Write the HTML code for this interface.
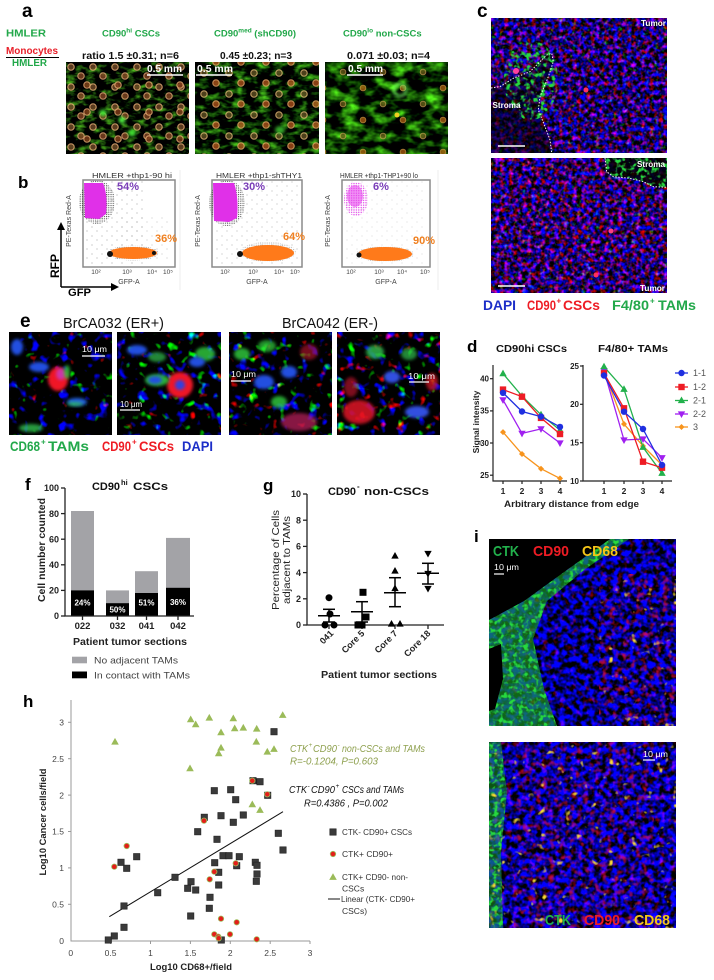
<!DOCTYPE html>
<html><head><meta charset="utf-8">
<style>
html,body{margin:0;padding:0;background:#fff;width:714px;height:980px;overflow:hidden}
svg{display:block}
text{font-family:"Liberation Sans",Arial,sans-serif}
</style></head><body>
<svg width="714" height="980" viewBox="0 0 714 980" xmlns="http://www.w3.org/2000/svg">
<defs>
<filter id="fa1" x="0" y="0" width="1" height="1" color-interpolation-filters="sRGB">
<feTurbulence type="fractalNoise" baseFrequency="0.1 0.18" numOctaves="3" seed="3"/>
<feColorMatrix type="matrix" values="0 0.8 0 0 -0.4  0 1.8 0 0 -0.85  0 0.3 0 0 -0.15  0 0 0 0 1"/>
</filter>
<filter id="fa2" x="0" y="0" width="1" height="1" color-interpolation-filters="sRGB">
<feTurbulence type="fractalNoise" baseFrequency="0.08 0.15" numOctaves="3" seed="7"/>
<feColorMatrix type="matrix" values="0 0.8 0 0 -0.4  0 1.9 0 0 -0.85  0 0.3 0 0 -0.15  0 0 0 0 1"/>
</filter>
<filter id="fa3" x="0" y="0" width="1" height="1" color-interpolation-filters="sRGB">
<feTurbulence type="fractalNoise" baseFrequency="0.06 0.1" numOctaves="3" seed="11"/>
<feColorMatrix type="matrix" values="0 0.9 0 0 -0.42  0 2.3 0 0 -0.95  0 0.3 0 0 -0.15  0 0 0 0 1"/>
</filter>
<filter id="fc1" x="0" y="0" width="1" height="1" color-interpolation-filters="sRGB">
<feTurbulence type="fractalNoise" baseFrequency="0.22" numOctaves="2" seed="4"/>
<feColorMatrix type="matrix" values="2.2 0 0 0 -1.0  0 1.8 0 0 -1.1  0 0 2.8 0 -1.0  0 0 0 0 1"/>
</filter>
<filter id="fc2" x="0" y="0" width="1" height="1" color-interpolation-filters="sRGB">
<feTurbulence type="fractalNoise" baseFrequency="0.22" numOctaves="2" seed="6"/>
<feColorMatrix type="matrix" values="2.3 0 0 0 -1.0  0 1.8 0 0 -1.1  0 0 2.8 0 -1.0  0 0 0 0 1"/>
</filter>
<filter id="fg" x="0" y="0" width="1" height="1" color-interpolation-filters="sRGB">
<feTurbulence type="fractalNoise" baseFrequency="0.2" numOctaves="2" seed="9"/>
<feColorMatrix type="matrix" values="0 0 0 0 0.2  0 0 0 0 0.85  0 0 0 0 0.3  0 5 0 0 -2.6"/>
</filter>
<filter id="fgd" x="0" y="0" width="1" height="1" color-interpolation-filters="sRGB">
<feTurbulence type="fractalNoise" baseFrequency="0.2" numOctaves="2" seed="13"/>
<feColorMatrix type="matrix" values="0 0 0 0 0.15  0 0 0 0 0.85  0 0 0 0 0.25  0 5 0 0 -2.5"/>
</filter>
<filter id="fe1" x="0" y="0" width="1" height="1" color-interpolation-filters="sRGB">
<feTurbulence type="fractalNoise" baseFrequency="0.1" numOctaves="2" seed="21"/>
<feColorMatrix type="matrix" values="5.5 0 0 0 -3.9  0 5.5 0 0 -3.65  0 0 5.5 0 -3.25  0 0 0 0 1"/>
</filter>
<filter id="fe2" x="0" y="0" width="1" height="1" color-interpolation-filters="sRGB">
<feTurbulence type="fractalNoise" baseFrequency="0.1" numOctaves="2" seed="23"/>
<feColorMatrix type="matrix" values="5.5 0 0 0 -3.9  0 5.5 0 0 -3.5  0 0 5.5 0 -3.2  0 0 0 0 1"/>
</filter>
<filter id="fe3" x="0" y="0" width="1" height="1" color-interpolation-filters="sRGB">
<feTurbulence type="fractalNoise" baseFrequency="0.1" numOctaves="2" seed="25"/>
<feColorMatrix type="matrix" values="5.5 0 0 0 -3.65  0 5.5 0 0 -3.55  0 0 5.5 0 -3.2  0 0 0 0 1"/>
</filter>
<filter id="fe4" x="0" y="0" width="1" height="1" color-interpolation-filters="sRGB">
<feTurbulence type="fractalNoise" baseFrequency="0.1" numOctaves="2" seed="27"/>
<feColorMatrix type="matrix" values="5.5 0 0 0 -3.5  0 5.5 0 0 -3.55  0 0 5.5 0 -3.2  0 0 0 0 1"/>
</filter>
<filter id="fi1" x="0" y="0" width="1" height="1" color-interpolation-filters="sRGB">
<feTurbulence type="fractalNoise" baseFrequency="0.17" numOctaves="2" seed="31"/>
<feColorMatrix type="matrix" values="1.6 0 0 0 -0.9  0 0 0 0 0  0 0 3.4 0 -1.2  0 0 0 0 1"/>
</filter>
<filter id="fi2" x="0" y="0" width="1" height="1" color-interpolation-filters="sRGB">
<feTurbulence type="fractalNoise" baseFrequency="0.17" numOctaves="2" seed="33"/>
<feColorMatrix type="matrix" values="1.7 0 0 0 -0.9  0 0 0 0 0  0 0 3.4 0 -1.15  0 0 0 0 1"/>
</filter>
<filter id="fy" x="0" y="0" width="1" height="1" color-interpolation-filters="sRGB">
<feTurbulence type="fractalNoise" baseFrequency="0.12" numOctaves="2" seed="41"/>
<feColorMatrix type="matrix" values="0 0 0 0 0.97  0 0 0 0 0.85  0 0 0 0 0.2  0 6.5 0 0 -4.45"/>
</filter>
<filter id="fr" x="0" y="0" width="1" height="1" color-interpolation-filters="sRGB">
<feTurbulence type="fractalNoise" baseFrequency="0.15" numOctaves="2" seed="45"/>
<feColorMatrix type="matrix" values="0 0 0 0 0.85  0 0 0 0 0.05  0 0 0 0 0.2  3.5 0 0 0 -1.9"/>
</filter>
<filter id="bl" x="-50%" y="-50%" width="200%" height="200%"><feGaussianBlur stdDeviation="1.5"/></filter>
<filter id="bl3" x="-50%" y="-50%" width="200%" height="200%"><feGaussianBlur stdDeviation="3"/></filter>

<pattern id="ringA" width="22" height="20" patternUnits="userSpaceOnUse">
<circle cx="5" cy="5" r="3.2" fill="#6a4424" stroke="#e3aa72" stroke-width="1.2"/>
<circle cx="15" cy="14" r="3.2" fill="#7a4020" stroke="#dca070" stroke-width="1.2"/>
</pattern>
<pattern id="ringB" width="31" height="27" patternUnits="userSpaceOnUse" patternTransform="translate(7,3)">
<circle cx="14" cy="20" r="3.2" fill="#7a3818" stroke="#e0a46c" stroke-width="1.2"/>
</pattern>
<pattern id="ringC" width="25" height="21" patternUnits="userSpaceOnUse" patternTransform="translate(3,6)">
<circle cx="6" cy="5" r="3.2" fill="#5a4a20" stroke="#d8b070" stroke-width="1.2"/>
<circle cx="18" cy="15" r="3.2" fill="#a04a18" stroke="#e0a060" stroke-width="1.2"/>
</pattern>
<pattern id="ringD" width="40" height="32" patternUnits="userSpaceOnUse" patternTransform="translate(10,4)">
<circle cx="8" cy="6" r="2.8" fill="#6a5a18" stroke="#c89a50" stroke-width="1"/>
<circle cx="28" cy="22" r="2.8" fill="#b06010" stroke="#d89a40" stroke-width="1"/>
</pattern>
<pattern id="sc" width="10" height="9" patternUnits="userSpaceOnUse">
<circle cx="2" cy="2" r="0.5" fill="#222"/><circle cx="7" cy="6" r="0.5" fill="#222"/>
</pattern>
<pattern id="dense" width="2.2" height="2.2" patternUnits="userSpaceOnUse">
<circle cx="1" cy="1" r="0.55" fill="#111"/>
</pattern>
<pattern id="mag" width="2.4" height="2.4" patternUnits="userSpaceOnUse">
<circle cx="1.2" cy="1.2" r="0.7" fill="#e040e8"/>
</pattern>

<circle id="mC" r="3.2"/>
<rect id="mS" x="-3.2" y="-3.2" width="6.4" height="6.4"/>
<path id="mT" d="M0,-4 L3.7,2.6 L-3.7,2.6Z"/>
<path id="mV" d="M0,4 L3.7,-2.6 L-3.7,-2.6Z"/>
<path id="mD" d="M0,-3 L3,0 L0,3 L-3,0Z"/>
<rect id="hS" x="-3.2" y="-3.2" width="6.4" height="6.4" fill="#3a3a3a" stroke="#1e1e1e" stroke-width="0.6"/>
<circle id="hR" r="2.7" fill="#e41e1a" stroke="#9bbb59" stroke-width="0.8"/>
<path id="hT" d="M0,-3.8 L3.8,2.9 L-3.8,2.9Z" fill="#9bbb59"/>
</defs>

<!-- ================= Panel a ================= -->
<text x="22" y="17" font-size="19" font-weight="bold">a</text>
<text x="6" y="36.5" font-size="10.5" font-weight="bold" fill="#22a84a" textLength="40" lengthAdjust="spacingAndGlyphs">HMLER</text>
<text x="6" y="54" font-size="10.5" font-weight="bold" fill="#e8202a" textLength="52" lengthAdjust="spacingAndGlyphs">Monocytes</text>
<line x1="6" y1="57.5" x2="59" y2="57.5" stroke="#000" stroke-width="1"/>
<text x="12" y="66" font-size="10.5" font-weight="bold" fill="#22a84a" textLength="35" lengthAdjust="spacingAndGlyphs">HMLER</text>

<text x="102" y="36.5" font-size="9.5" font-weight="bold" fill="#22a84a">CD90<tspan font-size="6.5" dy="-4">hi</tspan><tspan dy="4"> CSCs</tspan></text>
<text x="214" y="36.5" font-size="9.5" font-weight="bold" fill="#22a84a">CD90<tspan font-size="6.5" dy="-4">med</tspan><tspan dy="4"> (shCD90)</tspan></text>
<text x="343" y="36.5" font-size="9.5" font-weight="bold" fill="#22a84a">CD90<tspan font-size="6.5" dy="-4">lo</tspan><tspan dy="4"> non-CSCs</tspan></text>

<text x="82" y="59" font-size="10" font-weight="bold" fill="#111" textLength="97" lengthAdjust="spacingAndGlyphs">ratio  1.5 ±0.31; n=6</text>
<text x="220" y="59" font-size="10" font-weight="bold" fill="#111" textLength="72" lengthAdjust="spacingAndGlyphs">0.45 ±0.23; n=3</text>
<text x="347" y="59" font-size="10" font-weight="bold" fill="#111" textLength="83" lengthAdjust="spacingAndGlyphs">0.071 ±0.03; n=4</text>

<svg x="66" y="62" width="123" height="92">
<rect width="123" height="92" filter="url(#fa1)"/>
<rect width="123" height="92" fill="url(#ringA)" opacity="0.85"/>
<rect width="123" height="92" fill="url(#ringB)" opacity="0.85"/>
<ellipse cx="37" cy="51" rx="4" ry="3.5" fill="#40e030" filter="url(#bl)"/>
<ellipse cx="56" cy="58" rx="3.5" ry="3.5" fill="#50f040" filter="url(#bl)"/>
<ellipse cx="66" cy="71" rx="4" ry="3.5" fill="#40e030" filter="url(#bl)"/>
<text x="81" y="10" font-size="10" font-weight="bold" fill="#fff" textLength="35" lengthAdjust="spacingAndGlyphs">0.5 mm</text>
<line x1="81" y1="13" x2="117" y2="13" stroke="#fff" stroke-width="1.5"/>
</svg>
<svg x="195" y="62" width="124" height="92">
<rect width="124" height="92" filter="url(#fa2)"/>
<rect width="124" height="92" fill="url(#ringC)" opacity="0.85"/>
<ellipse cx="85" cy="68" rx="5" ry="4" fill="#40d030" opacity="0.8" filter="url(#bl)"/>
<text x="2" y="10" font-size="10" font-weight="bold" fill="#fff" textLength="36" lengthAdjust="spacingAndGlyphs">0.5 mm</text>
<line x1="1" y1="13" x2="37" y2="13" stroke="#fff" stroke-width="1.5"/>
</svg>
<svg x="325" y="62" width="123" height="92">
<rect width="123" height="92" filter="url(#fa3)"/>
<rect width="123" height="92" fill="url(#ringD)" opacity="0.75"/>
<ellipse cx="75" cy="28" rx="6" ry="6" fill="none" stroke="#70f060" stroke-width="2" filter="url(#bl)"/>
<circle cx="72" cy="53" r="2.5" fill="#f0d020"/>
<text x="23" y="10" font-size="10" font-weight="bold" fill="#fff" textLength="35" lengthAdjust="spacingAndGlyphs">0.5 mm</text>
<line x1="22" y1="13" x2="58" y2="13" stroke="#fff" stroke-width="1.5"/>
</svg>

<!-- ================= Panel b ================= -->
<text x="18" y="188" font-size="17" font-weight="bold">b</text>
<line x1="180" y1="170" x2="180" y2="290" stroke="#eee" stroke-width="1"/>
<line x1="438" y1="170" x2="438" y2="290" stroke="#eee" stroke-width="1"/>

<text x="92" y="178" font-size="7.5" fill="#333" textLength="80" lengthAdjust="spacingAndGlyphs">HMLER +thp1-90 hi</text>
<rect x="83" y="180" width="92" height="87" fill="#fff" stroke="#8a8a8a" stroke-width="1.5"/>
<rect x="84" y="181" width="60" height="85" fill="url(#sc)" opacity="0.55"/>
<rect x="120" y="215" width="50" height="45" fill="url(#sc)" opacity="0.35"/>
<ellipse cx="97" cy="202" rx="18" ry="22" fill="url(#dense)" opacity="0.85"/>
<path d="M84,183 L103,183 Q108,195 106,214 L99,219 L85,218 Z" fill="#e030e8"/>
<ellipse cx="133" cy="253" rx="26" ry="7.5" fill="url(#dense)" opacity="0.5"/>
<ellipse cx="133" cy="253" rx="24" ry="6" fill="#ff7a1a"/>
<circle cx="110" cy="254" r="3" fill="#111"/>
<circle cx="154" cy="253" r="2" fill="#111"/>
<text x="117" y="190" font-size="11" font-weight="bold" fill="#7a3db8">54%</text>
<text x="155" y="242" font-size="11" font-weight="bold" fill="#f08020">36%</text>

<text x="216" y="178" font-size="7.5" fill="#333" textLength="86" lengthAdjust="spacingAndGlyphs">HMLER +thp1-shTHY1</text>
<rect x="212" y="180" width="90" height="87" fill="#fff" stroke="#8a8a8a" stroke-width="1.5"/>
<rect x="213" y="181" width="88" height="85" fill="url(#sc)" opacity="0.45"/>
<ellipse cx="227" cy="203" rx="18" ry="23" fill="url(#dense)" opacity="0.85"/>
<path d="M213,183 L234,183 Q239,198 237,218 L229,222 L214,221 Z" fill="#e030e8"/>
<ellipse cx="268" cy="252" rx="28" ry="10" fill="url(#dense)" opacity="0.35"/>
<ellipse cx="268" cy="253" rx="26" ry="8" fill="#ff7a1a"/>
<circle cx="240" cy="254" r="3" fill="#111"/>
<text x="243" y="190" font-size="11" font-weight="bold" fill="#7a3db8">30%</text>
<text x="283" y="240" font-size="11" font-weight="bold" fill="#f08020">64%</text>

<text x="340" y="178" font-size="7.5" fill="#333" textLength="78" lengthAdjust="spacingAndGlyphs">HMLER +thp1-THP1+90 lo</text>
<rect x="342" y="180" width="88" height="87" fill="#fff" stroke="#8a8a8a" stroke-width="1.5"/>
<rect x="343" y="181" width="80" height="85" fill="url(#sc)" opacity="0.25"/>
<ellipse cx="356" cy="199" rx="12" ry="17" fill="url(#mag)"/>
<ellipse cx="355" cy="196" rx="8" ry="11" fill="#e848ee" opacity="0.6"/>
<ellipse cx="385" cy="254" rx="29" ry="8" fill="url(#dense)" opacity="0.3"/>
<ellipse cx="385" cy="254" rx="27" ry="7" fill="#ff7a1a"/>
<circle cx="359" cy="255" r="2.5" fill="#111"/>
<text x="373" y="190" font-size="11" font-weight="bold" fill="#7a3db8">6%</text>
<text x="413" y="244" font-size="11" font-weight="bold" fill="#f08020">90%</text>

<g font-size="6.5" fill="#444">
<text x="96" y="274" text-anchor="middle">10²</text><text x="127" y="274" text-anchor="middle">10³</text><text x="152" y="274" text-anchor="middle">10⁴</text><text x="168" y="274" text-anchor="middle">10⁵</text>
<text x="225" y="274" text-anchor="middle">10²</text><text x="253" y="274" text-anchor="middle">10³</text><text x="279" y="274" text-anchor="middle">10⁴</text><text x="295" y="274" text-anchor="middle">10⁵</text>
<text x="351" y="274" text-anchor="middle">10²</text><text x="379" y="274" text-anchor="middle">10³</text><text x="402" y="274" text-anchor="middle">10⁴</text><text x="425" y="274" text-anchor="middle">10⁵</text>
</g>
<g font-size="7" fill="#444">
<text x="129" y="284" text-anchor="middle">GFP-A</text>
<text x="257" y="284" text-anchor="middle">GFP-A</text>
<text x="386" y="284" text-anchor="middle">GFP-A</text>
<text transform="translate(71,221) rotate(-90)" text-anchor="middle">PE-Texas Red-A</text>
<text transform="translate(200,221) rotate(-90)" text-anchor="middle">PE-Texas Red-A</text>
<text transform="translate(330,221) rotate(-90)" text-anchor="middle">PE-Texas Red-A</text>
</g>

<line x1="61" y1="287" x2="61" y2="228" stroke="#000" stroke-width="1.5"/>
<path d="M61,222 L57,230 L65,230 Z" fill="#000"/>
<line x1="61" y1="287" x2="113" y2="287" stroke="#000" stroke-width="1.5"/>
<path d="M119,287 L111,283 L111,291 Z" fill="#000"/>
<text transform="translate(59,266) rotate(-90)" font-size="12" font-weight="bold" text-anchor="middle">RFP</text>
<text x="68" y="296" font-size="11" font-weight="bold" textLength="23" lengthAdjust="spacingAndGlyphs">GFP</text>

<!-- ================= Panel c ================= -->
<text x="477" y="17" font-size="19" font-weight="bold">c</text>
<svg x="491" y="18" width="176" height="135">
<rect width="176" height="135" filter="url(#fc1)"/>
<path d="M0,70 L9,68.7 L22.3,60.3 L39,53.7 L55.7,37 L60.7,35.3 L62.3,43.7 L57.3,58.7 L49,78.7 L47.3,92 L54,108.7 L59,122 L60.7,135 L0,135 Z" fill="#000" opacity="0.55"/>
<clipPath id="cgc1"><ellipse cx="40" cy="62" rx="27" ry="40"/></clipPath>
<rect width="176" height="135" filter="url(#fgd)" clip-path="url(#cgc1)"/>
<circle cx="25" cy="53" r="3" fill="#ff40a0"/>
<circle cx="95" cy="72" r="2.5" fill="#ff3060"/>
<polyline points="0,70 9,68.7 22.3,60.3 39,53.7 55.7,37 60.7,35.3 62.3,43.7 57.3,58.7 49,78.7 47.3,92 54,108.7 59,122 60.7,135" fill="none" stroke="#eee" stroke-width="1" stroke-dasharray="1.5,1.5"/>
<text x="1.5" y="90" font-size="8.5" font-weight="bold" fill="#fff" textLength="28" lengthAdjust="spacingAndGlyphs">Stroma</text>
<text x="150" y="8" font-size="8.5" font-weight="bold" fill="#fff" textLength="25" lengthAdjust="spacingAndGlyphs">Tumor</text>
<line x1="7" y1="128" x2="34" y2="128" stroke="#fff" stroke-width="1.5"/>
</svg>
<svg x="491" y="158" width="176" height="135">
<rect width="176" height="135" filter="url(#fc2)"/>
<clipPath id="cgc2"><path d="M114,0 L115.7,13.7 L122.3,18.7 L139,20.3 L152.3,23.7 L162.3,28.7 L176,29.3 L176,0 Z"/></clipPath>
<rect width="176" height="135" fill="#000" opacity="0.85" clip-path="url(#cgc2)"/>
<rect width="176" height="135" filter="url(#fgd)" clip-path="url(#cgc2)"/>
<circle cx="105" cy="117" r="2.5" fill="#ff3060"/>
<circle cx="120" cy="73" r="2.5" fill="#ff4080"/>
<polyline points="114,0 115.7,13.7 122.3,18.7 139,20.3 152.3,23.7 162.3,28.7 176,29.3" fill="none" stroke="#eee" stroke-width="1" stroke-dasharray="1.5,1.5"/>
<text x="146" y="9" font-size="8.5" font-weight="bold" fill="#fff" textLength="28" lengthAdjust="spacingAndGlyphs">Stroma</text>
<text x="149" y="133" font-size="8.5" font-weight="bold" fill="#fff" textLength="25" lengthAdjust="spacingAndGlyphs">Tumor</text>
<line x1="7" y1="128" x2="34" y2="128" stroke="#fff" stroke-width="1.5"/>
</svg>
<g font-size="14" font-weight="bold">
<text x="483" y="310" fill="#1c2ec8" textLength="33" lengthAdjust="spacingAndGlyphs">DAPI</text>
<text x="527" y="310" fill="#ee1c24" textLength="29" lengthAdjust="spacingAndGlyphs">CD90</text>
<text x="556.5" y="303.5" fill="#ee1c24" font-size="8">+</text>
<text x="563" y="310" fill="#ee1c24" textLength="37" lengthAdjust="spacingAndGlyphs">CSCs</text>
<text x="612" y="310" fill="#22a84a" textLength="37" lengthAdjust="spacingAndGlyphs">F4/80</text>
<text x="650" y="303.5" fill="#22a84a" font-size="8">+</text>
<text x="658" y="310" fill="#22a84a" textLength="38" lengthAdjust="spacingAndGlyphs">TAMs</text>
</g>

<!-- ================= Panel e ================= -->
<text x="20" y="327" font-size="19" font-weight="bold">e</text>
<text x="63" y="328" font-size="15" fill="#111" textLength="101" lengthAdjust="spacingAndGlyphs">BrCA032 (ER+)</text>
<text x="282" y="328" font-size="15" fill="#111" textLength="96" lengthAdjust="spacingAndGlyphs">BrCA042 (ER-)</text>
<svg x="9" y="332" width="103" height="103">
<rect width="103" height="103" filter="url(#fe1)"/>
<ellipse cx="49" cy="47" rx="10" ry="12" fill="#f01828" filter="url(#bl)"/>
<ellipse cx="52" cy="42" rx="5" ry="6" fill="#c040e0" opacity="0.7" filter="url(#bl)"/>
<ellipse cx="58" cy="40" rx="3" ry="7" fill="#30d040" opacity="0.8" filter="url(#bl)"/>
<ellipse cx="68" cy="70" rx="10" ry="4" fill="#2060e0" filter="url(#bl)"/>
<ellipse cx="66" cy="72" rx="8" ry="2" fill="#30d040" opacity="0.7" filter="url(#bl)"/>
<ellipse cx="22" cy="96" rx="12" ry="4" fill="#30c050" opacity="0.8" filter="url(#bl)"/>
<ellipse cx="30" cy="35" rx="10" ry="5" fill="#2050e0" filter="url(#bl)"/>
<ellipse cx="8" cy="15" rx="6" ry="8" fill="#2050e0" filter="url(#bl)"/>
<text x="73" y="20" font-size="8.5" fill="#fff" textLength="25" lengthAdjust="spacingAndGlyphs">10 μm</text>
<line x1="73" y1="24" x2="96" y2="24" stroke="#fff" stroke-width="1.3"/>
</svg>
<svg x="117" y="332" width="104" height="103">
<rect width="104" height="103" filter="url(#fe2)"/>
<circle cx="63" cy="53" r="13" fill="#f01828" filter="url(#bl)"/>
<circle cx="63" cy="53" r="5" fill="#3040e0" filter="url(#bl)"/>
<ellipse cx="40" cy="48" rx="12" ry="6" fill="#30d040" opacity="0.85" filter="url(#bl)"/>
<ellipse cx="38" cy="48" rx="7" ry="4" fill="#2050e0" filter="url(#bl)"/>
<ellipse cx="88" cy="22" rx="10" ry="7" fill="#30d040" opacity="0.8" filter="url(#bl)"/>
<ellipse cx="40" cy="25" rx="9" ry="5" fill="#30c050" opacity="0.7" filter="url(#bl)"/>
<ellipse cx="20" cy="18" rx="10" ry="5" fill="#2050e0" filter="url(#bl)"/>
<ellipse cx="80" cy="30" rx="8" ry="5" fill="#2050e0" filter="url(#bl)"/>
<text x="3" y="75" font-size="8.5" fill="#fff" textLength="22" lengthAdjust="spacingAndGlyphs">10 μm</text>
<line x1="3" y1="78" x2="23" y2="78" stroke="#fff" stroke-width="1.3"/>
</svg>
<svg x="229" y="332" width="103" height="103">
<rect width="103" height="103" filter="url(#fe3)"/>
<ellipse cx="13" cy="22" rx="8" ry="6" fill="#30d040" opacity="0.8" filter="url(#bl)"/>
<ellipse cx="38" cy="14" rx="9" ry="6" fill="#30d040" opacity="0.7" filter="url(#bl)"/>
<ellipse cx="50" cy="70" rx="8" ry="6" fill="#30d040" opacity="0.8" filter="url(#bl)"/>
<ellipse cx="80" cy="20" rx="9" ry="8" fill="#c01830" opacity="0.6" filter="url(#bl)"/>
<ellipse cx="70" cy="90" rx="18" ry="9" fill="#c02060" opacity="0.7" filter="url(#bl)"/>
<ellipse cx="35" cy="50" rx="10" ry="7" fill="#2050e0" filter="url(#bl)"/>
<ellipse cx="60" cy="40" rx="8" ry="6" fill="#2050e0" filter="url(#bl)"/>
<text x="2" y="45" font-size="8.5" fill="#fff" textLength="25" lengthAdjust="spacingAndGlyphs">10 μm</text>
<line x1="2" y1="49" x2="22" y2="49" stroke="#fff" stroke-width="1.3"/>
</svg>
<svg x="337" y="332" width="103" height="103">
<rect width="103" height="103" filter="url(#fe4)"/>
<ellipse cx="22" cy="80" rx="16" ry="12" fill="#e01828" opacity="0.85" filter="url(#bl)"/>
<ellipse cx="14" cy="55" rx="7" ry="10" fill="#d01830" opacity="0.6" filter="url(#bl)"/>
<ellipse cx="95" cy="50" rx="6" ry="9" fill="#e01828" opacity="0.7" filter="url(#bl)"/>
<ellipse cx="38" cy="20" rx="9" ry="7" fill="#30c050" opacity="0.8" filter="url(#bl)"/>
<ellipse cx="72" cy="22" rx="8" ry="6" fill="#30c050" opacity="0.7" filter="url(#bl)"/>
<ellipse cx="80" cy="80" rx="12" ry="6" fill="#3050e0" filter="url(#bl)"/>
<ellipse cx="55" cy="45" rx="8" ry="6" fill="#3050e0" filter="url(#bl)"/>
<text x="71" y="47" font-size="8.5" fill="#fff" textLength="27" lengthAdjust="spacingAndGlyphs">10 μm</text>
<line x1="72" y1="50" x2="92" y2="50" stroke="#fff" stroke-width="1.3"/>
</svg>
<g font-size="14" font-weight="bold">
<text x="10" y="451" fill="#22a84a" textLength="30" lengthAdjust="spacingAndGlyphs">CD68</text>
<text x="41" y="444.5" fill="#22a84a" font-size="8">+</text>
<text x="48" y="451" fill="#22a84a" textLength="41" lengthAdjust="spacingAndGlyphs">TAMs</text>
<text x="102" y="451" fill="#ee1c24" textLength="29" lengthAdjust="spacingAndGlyphs">CD90</text>
<text x="132" y="444.5" fill="#ee1c24" font-size="8">+</text>
<text x="139" y="451" fill="#ee1c24" textLength="35" lengthAdjust="spacingAndGlyphs">CSCs</text>
<text x="182" y="451" fill="#1c2ec8" textLength="31" lengthAdjust="spacingAndGlyphs">DAPI</text>
</g>

<!-- ================= Panel d ================= -->
<text x="467" y="352" font-size="17" font-weight="bold">d</text>
<text x="496" y="352" font-size="10" font-weight="bold" fill="#111" textLength="71" lengthAdjust="spacingAndGlyphs">CD90hi CSCs</text>
<text x="598" y="352" font-size="10" font-weight="bold" fill="#111" textLength="70" lengthAdjust="spacingAndGlyphs">F4/80+ TAMs</text>
<text transform="translate(479,422) rotate(-90)" font-size="8.5" font-weight="bold" fill="#222" text-anchor="middle">Signal intensity</text>
<g stroke="#222" stroke-width="1.2" fill="none">
<polyline points="493,365 493,481 567,481"/>
<line x1="490" y1="378.7" x2="493" y2="378.7"/><line x1="490" y1="410.9" x2="493" y2="410.9"/><line x1="490" y1="443" x2="493" y2="443"/><line x1="490" y1="475.2" x2="493" y2="475.2"/>
<line x1="503" y1="481" x2="503" y2="484"/><line x1="522" y1="481" x2="522" y2="484"/><line x1="541" y1="481" x2="541" y2="484"/><line x1="560" y1="481" x2="560" y2="484"/>
<polyline points="583,365 583,481 672,481"/>
<line x1="580" y1="366" x2="583" y2="366"/><line x1="580" y1="404.3" x2="583" y2="404.3"/><line x1="580" y1="442.7" x2="583" y2="442.7"/><line x1="580" y1="481" x2="583" y2="481"/>
<line x1="604" y1="481" x2="604" y2="484"/><line x1="624" y1="481" x2="624" y2="484"/><line x1="643" y1="481" x2="643" y2="484"/><line x1="662" y1="481" x2="662" y2="484"/>
</g>
<g font-size="8" font-weight="bold" fill="#222" text-anchor="end">
<text x="489" y="381.5">40</text><text x="489" y="413.7">35</text><text x="489" y="445.8">30</text><text x="489" y="478">25</text>
<text x="579" y="369">25</text><text x="579" y="407">20</text><text x="579" y="445.5">15</text><text x="579" y="484">10</text>
</g>
<g font-size="8.5" font-weight="bold" fill="#222" text-anchor="middle">
<text x="503" y="494">1</text><text x="522" y="494">2</text><text x="541" y="494">3</text><text x="560" y="494">4</text>
<text x="604" y="494">1</text><text x="624" y="494">2</text><text x="643" y="494">3</text><text x="662" y="494">4</text>
</g>
<text x="504" y="507" font-size="9" font-weight="bold" fill="#222" textLength="135" lengthAdjust="spacingAndGlyphs">Arbitrary distance from edge</text>
<g fill="none" stroke-width="1.3">
<polyline stroke="#f7941d" points="503,432.1 522,454 541,468.7 560,478.4"/>
<polyline stroke="#a020f0" points="503,399.9 522,433.4 541,428.9 560,443"/>
<polyline stroke="#22b14c" points="503,373.6 522,396.1 541,414.7 560,430.1"/>
<polyline stroke="#ee1c24" points="503,389.6 522,396.7 541,417.9 560,434"/>
<polyline stroke="#1f2fe0" points="503,392.8 522,411.5 541,416.6 560,426.9"/>
<polyline stroke="#f7941d" points="604,371.7 624,424 643,446 662,465"/>
<polyline stroke="#a020f0" points="604,370.7 624,440 643,439 662,457.7"/>
<polyline stroke="#22b14c" points="604,366.7 624,389.3 643,447.3 662,473.3"/>
<polyline stroke="#ee1c24" points="604,373.3 624,408.3 643,461.7 662,467.7"/>
<polyline stroke="#1f2fe0" points="604,375.5 624,411.7 643,429 662,465"/>
</g>
<g fill="#f7941d"><use href="#mD" x="503" y="432.1"/><use href="#mD" x="522" y="454"/><use href="#mD" x="541" y="468.7"/><use href="#mD" x="560" y="478.4"/><use href="#mD" x="604" y="371.7"/><use href="#mD" x="624" y="424"/><use href="#mD" x="643" y="446"/><use href="#mD" x="662" y="465"/></g>
<g fill="#a020f0"><use href="#mV" x="503" y="399.9"/><use href="#mV" x="522" y="433.4"/><use href="#mV" x="541" y="428.9"/><use href="#mV" x="560" y="443"/><use href="#mV" x="604" y="370.7"/><use href="#mV" x="624" y="440"/><use href="#mV" x="643" y="439"/><use href="#mV" x="662" y="457.7"/></g>
<g fill="#22b14c"><use href="#mT" x="503" y="373.6"/><use href="#mT" x="522" y="396.1"/><use href="#mT" x="541" y="414.7"/><use href="#mT" x="560" y="430.1"/><use href="#mT" x="604" y="366.7"/><use href="#mT" x="624" y="389.3"/><use href="#mT" x="643" y="447.3"/><use href="#mT" x="662" y="473.3"/></g>
<g fill="#ee1c24"><use href="#mS" x="503" y="389.6"/><use href="#mS" x="522" y="396.7"/><use href="#mS" x="541" y="417.9"/><use href="#mS" x="560" y="434"/><use href="#mS" x="604" y="373.3"/><use href="#mS" x="624" y="408.3"/><use href="#mS" x="643" y="461.7"/><use href="#mS" x="662" y="467.7"/></g>
<g fill="#1f2fe0"><use href="#mC" x="503" y="392.8"/><use href="#mC" x="522" y="411.5"/><use href="#mC" x="541" y="416.6"/><use href="#mC" x="560" y="426.9"/><use href="#mC" x="604" y="375.5"/><use href="#mC" x="624" y="411.7"/><use href="#mC" x="643" y="429"/><use href="#mC" x="662" y="465"/></g>
<g stroke-width="1.3">
<line x1="675" y1="373" x2="688" y2="373" stroke="#1f2fe0"/><use href="#mC" x="681.5" y="373" fill="#1f2fe0"/>
<line x1="675" y1="387" x2="688" y2="387" stroke="#ee1c24"/><use href="#mS" x="681.5" y="387" fill="#ee1c24"/>
<line x1="675" y1="400.5" x2="688" y2="400.5" stroke="#22b14c"/><use href="#mT" x="681.5" y="400.5" fill="#22b14c"/>
<line x1="675" y1="414" x2="688" y2="414" stroke="#a020f0"/><use href="#mV" x="681.5" y="414" fill="#a020f0"/>
<line x1="675" y1="427" x2="688" y2="427" stroke="#f7941d"/><use href="#mD" x="681.5" y="427" fill="#f7941d"/>
</g>
<g font-size="9" fill="#555">
<text x="693" y="376">1-1</text><text x="693" y="390">1-2</text><text x="693" y="403.5">2-1</text><text x="693" y="417">2-2</text><text x="693" y="430">3</text>
</g>

<!-- ================= Panel f ================= -->
<text x="25" y="490" font-size="17" font-weight="bold">f</text>
<text x="92" y="490" font-size="11" font-weight="bold" fill="#111" textLength="28" lengthAdjust="spacingAndGlyphs">CD90</text>
<text x="121" y="485" font-size="7.5" font-weight="bold" fill="#111">hi</text>
<text x="133" y="490" font-size="11" font-weight="bold" fill="#111" textLength="35" lengthAdjust="spacingAndGlyphs">CSCs</text>
<text transform="translate(45,550) rotate(-90)" font-size="10.5" font-weight="bold" fill="#222" text-anchor="middle" textLength="104" lengthAdjust="spacingAndGlyphs">Cell number counted</text>
<g fill="#a3a3a7">
<rect x="71" y="511" width="23" height="105"/><rect x="106" y="590.4" width="23" height="25.6"/><rect x="135" y="571.2" width="23" height="44.8"/><rect x="166" y="537.9" width="24" height="78.1"/>
</g>
<g fill="#000">
<rect x="71" y="590.4" width="23" height="25.6"/><rect x="106" y="603.2" width="23" height="12.8"/><rect x="135" y="593" width="23" height="23"/><rect x="166" y="587.8" width="24" height="28.2"/>
</g>
<g stroke="#222" stroke-width="1.3" fill="none">
<polyline points="65,488 65,616 194,616"/>
<line x1="61" y1="488" x2="65" y2="488"/><line x1="61" y1="513.6" x2="65" y2="513.6"/><line x1="61" y1="539.2" x2="65" y2="539.2"/><line x1="61" y1="564.8" x2="65" y2="564.8"/><line x1="61" y1="590.4" x2="65" y2="590.4"/><line x1="61" y1="616" x2="65" y2="616"/>
<line x1="82.5" y1="616" x2="82.5" y2="620"/><line x1="117.5" y1="616" x2="117.5" y2="620"/><line x1="146.5" y1="616" x2="146.5" y2="620"/><line x1="178" y1="616" x2="178" y2="620"/>
</g>
<g font-size="9" font-weight="bold" fill="#222" text-anchor="end">
<text x="59" y="491">100</text><text x="59" y="516.8">80</text><text x="59" y="542.4">60</text><text x="59" y="568">40</text><text x="59" y="593.6">20</text><text x="59" y="619.2">0</text>
</g>
<g font-size="8" font-weight="bold" fill="#fff" text-anchor="middle">
<text x="82.5" y="605.5">24%</text><text x="117.5" y="612.5">50%</text><text x="146.5" y="605.5">51%</text><text x="178" y="605">36%</text>
</g>
<g font-size="9.5" font-weight="bold" fill="#222" text-anchor="middle">
<text x="82.5" y="629">022</text><text x="117.5" y="629">032</text><text x="146.5" y="629">041</text><text x="178" y="629">042</text>
</g>
<text x="73" y="645" font-size="10" font-weight="bold" fill="#222" textLength="114" lengthAdjust="spacingAndGlyphs">Patient tumor sections</text>
<rect x="72" y="656.7" width="15" height="6.6" fill="#a3a3a7"/>
<text x="94" y="663.5" font-size="9.5" fill="#444" textLength="84" lengthAdjust="spacingAndGlyphs">No adjacent TAMs</text>
<rect x="72" y="671.5" width="15" height="6.8" fill="#000"/>
<text x="94" y="678.5" font-size="9.5" fill="#444" textLength="96" lengthAdjust="spacingAndGlyphs">In contact with TAMs</text>

<!-- ================= Panel g ================= -->
<text x="263" y="491" font-size="17" font-weight="bold">g</text>
<text x="328" y="495" font-size="11" font-weight="bold" fill="#111" textLength="28" lengthAdjust="spacingAndGlyphs">CD90</text>
<text x="357" y="489" font-size="8" font-weight="bold" fill="#111">-</text>
<text x="364" y="495" font-size="11" font-weight="bold" fill="#111" textLength="65" lengthAdjust="spacingAndGlyphs">non-CSCs</text>
<text transform="translate(279,560) rotate(-90)" font-size="10.5" fill="#222" text-anchor="middle" textLength="100" lengthAdjust="spacingAndGlyphs">Percentage of Cells</text>
<text transform="translate(290,560) rotate(-90)" font-size="10.5" fill="#222" text-anchor="middle" textLength="88" lengthAdjust="spacingAndGlyphs">adjacent to TAMs</text>
<g stroke="#222" stroke-width="1.3" fill="none">
<polyline points="307,494 307,625 444,625"/>
<line x1="303" y1="494" x2="307" y2="494"/><line x1="303" y1="520.2" x2="307" y2="520.2"/><line x1="303" y1="546.4" x2="307" y2="546.4"/><line x1="303" y1="572.6" x2="307" y2="572.6"/><line x1="303" y1="598.8" x2="307" y2="598.8"/><line x1="303" y1="625" x2="307" y2="625"/>
<line x1="329" y1="625" x2="329" y2="629"/><line x1="362" y1="625" x2="362" y2="629"/><line x1="395" y1="625" x2="395" y2="629"/><line x1="428" y1="625" x2="428" y2="629"/>
</g>
<g font-size="9" font-weight="bold" fill="#222" text-anchor="end">
<text x="301" y="497">10</text><text x="301" y="523.4">8</text><text x="301" y="549.6">6</text><text x="301" y="575.8">4</text><text x="301" y="602">2</text><text x="301" y="628.2">0</text>
</g>
<g fill="#000">
<circle cx="329" cy="597.7" r="3.5"/><circle cx="330" cy="614" r="3.5"/><circle cx="325" cy="625" r="3.5"/><circle cx="334" cy="625" r="3.5"/>
<rect x="359.5" y="588.8" width="7" height="7"/><rect x="362.5" y="613.5" width="7" height="7"/><rect x="354.5" y="621.5" width="7" height="7"/><rect x="358.5" y="621.5" width="7" height="7"/>
<use href="#mT" x="395" y="556"/><use href="#mT" x="395" y="571"/><use href="#mT" x="395" y="588.5"/><use href="#mT" x="391.5" y="624"/><use href="#mT" x="400" y="624"/>
<use href="#mV" x="428" y="553.5"/><use href="#mV" x="428" y="573.5"/><use href="#mV" x="428" y="588.5"/>
</g>
<g stroke="#000" stroke-width="1.5" fill="none">
<line x1="318" y1="615.7" x2="340" y2="615.7"/><line x1="329" y1="609.3" x2="329" y2="622"/><line x1="323" y1="609.3" x2="335" y2="609.3"/><line x1="323" y1="622" x2="335" y2="622"/>
<line x1="351" y1="611.7" x2="373" y2="611.7"/><line x1="362" y1="601.7" x2="362" y2="622"/><line x1="356" y1="601.7" x2="368" y2="601.7"/><line x1="356" y1="622" x2="368" y2="622"/>
<line x1="384" y1="592.7" x2="406" y2="592.7"/><line x1="395" y1="577.7" x2="395" y2="606.7"/><line x1="389" y1="577.7" x2="401" y2="577.7"/><line x1="389" y1="606.7" x2="401" y2="606.7"/>
<line x1="417" y1="573.3" x2="439" y2="573.3"/><line x1="428" y1="563.3" x2="428" y2="584"/><line x1="422" y1="563.3" x2="434" y2="563.3"/><line x1="422" y1="584" x2="434" y2="584"/>
</g>
<g font-size="9" font-weight="bold" fill="#222" text-anchor="end">
<text transform="translate(334,634) rotate(-45)">041</text>
<text transform="translate(365,634) rotate(-45)">Core 5</text>
<text transform="translate(398,634) rotate(-45)">Core 7</text>
<text transform="translate(431,634) rotate(-45)">Core 18</text>
</g>
<text x="321" y="678" font-size="10.5" font-weight="bold" fill="#222" textLength="116" lengthAdjust="spacingAndGlyphs">Patient tumor sections</text>

<!-- ================= Panel h ================= -->
<text x="23" y="707" font-size="17" font-weight="bold">h</text>
<g stroke="#999" stroke-width="1" fill="none">
<polyline points="71,700 71,941 310,941"/>
<line x1="68" y1="722.3" x2="71" y2="722.3"/><line x1="68" y1="758.7" x2="71" y2="758.7"/><line x1="68" y1="795.1" x2="71" y2="795.1"/><line x1="68" y1="831.5" x2="71" y2="831.5"/><line x1="68" y1="867.9" x2="71" y2="867.9"/><line x1="68" y1="904.3" x2="71" y2="904.3"/>
<line x1="110.6" y1="941" x2="110.6" y2="944"/><line x1="150.5" y1="941" x2="150.5" y2="944"/><line x1="190.4" y1="941" x2="190.4" y2="944"/><line x1="230.3" y1="941" x2="230.3" y2="944"/><line x1="270.2" y1="941" x2="270.2" y2="944"/><line x1="310" y1="941" x2="310" y2="944"/>
</g>
<g font-size="8.5" fill="#444" text-anchor="end">
<text x="64" y="725.5">3</text><text x="64" y="762">2.5</text><text x="64" y="798.3">2</text><text x="64" y="834.7">1.5</text><text x="64" y="871">1</text><text x="64" y="907.5">0.5</text><text x="64" y="944">0</text>
</g>
<g font-size="8.5" fill="#444" text-anchor="middle">
<text x="70.7" y="956">0</text><text x="110.6" y="956">0.5</text><text x="150.5" y="956">1</text><text x="190.4" y="956">1.5</text><text x="230.3" y="956">2</text><text x="270.2" y="956">2.5</text><text x="310" y="956">3</text>
</g>
<text transform="translate(46,822) rotate(-90)" font-size="9.5" font-weight="bold" fill="#222" text-anchor="middle" textLength="107" lengthAdjust="spacingAndGlyphs">Log10 Cancer cells/field</text>
<text x="150" y="970" font-size="9.5" font-weight="bold" fill="#222" textLength="82" lengthAdjust="spacingAndGlyphs">Log10 CD68+/field</text>
<line x1="109.3" y1="916.7" x2="283" y2="811.7" stroke="#111" stroke-width="1"/>
<g>
<use href="#hT" x="115" y="741.7"/><use href="#hT" x="190.7" y="719.3"/><use href="#hT" x="195.7" y="724.3"/><use href="#hT" x="209.3" y="717.7"/><use href="#hT" x="221" y="732.3"/><use href="#hT" x="233.3" y="718.3"/><use href="#hT" x="234.7" y="728.3"/><use href="#hT" x="243.3" y="727.7"/><use href="#hT" x="256.7" y="728.7"/><use href="#hT" x="256.3" y="741.7"/><use href="#hT" x="282.7" y="715"/><use href="#hT" x="218.7" y="753.3"/><use href="#hT" x="221" y="747.7"/><use href="#hT" x="267.3" y="751.7"/><use href="#hT" x="274" y="749"/><use href="#hT" x="190" y="768.3"/><use href="#hT" x="252.3" y="804.3"/><use href="#hT" x="260" y="810"/>
</g>
<g>
<use href="#hS" x="108.3" y="940"/><use href="#hS" x="114.3" y="936"/><use href="#hS" x="124" y="927.3"/><use href="#hS" x="124" y="906"/><use href="#hS" x="121" y="862.3"/><use href="#hS" x="126.7" y="868.3"/><use href="#hS" x="136.7" y="856.7"/><use href="#hS" x="157.7" y="892.7"/><use href="#hS" x="175" y="877.3"/><use href="#hS" x="187.7" y="888.3"/><use href="#hS" x="191" y="881.7"/><use href="#hS" x="195.7" y="890"/><use href="#hS" x="190.7" y="916"/><use href="#hS" x="197.7" y="831.7"/><use href="#hS" x="210" y="897.3"/><use href="#hS" x="209.3" y="908.3"/><use href="#hS" x="204.3" y="817.3"/><use href="#hS" x="214.3" y="790.7"/><use href="#hS" x="217" y="839.3"/><use href="#hS" x="218.7" y="872.3"/><use href="#hS" x="218.7" y="885"/><use href="#hS" x="214.7" y="862.7"/><use href="#hS" x="221" y="815.7"/><use href="#hS" x="223" y="855.7"/><use href="#hS" x="221.3" y="940"/><use href="#hS" x="229" y="855.7"/><use href="#hS" x="230.7" y="789.7"/><use href="#hS" x="233.3" y="822.3"/><use href="#hS" x="235.7" y="799.7"/><use href="#hS" x="236.7" y="865.7"/><use href="#hS" x="239.3" y="856.7"/><use href="#hS" x="243.3" y="815"/><use href="#hS" x="253" y="780.7"/><use href="#hS" x="255.3" y="862.3"/><use href="#hS" x="257" y="865.3"/><use href="#hS" x="257" y="874"/><use href="#hS" x="256.3" y="881.3"/><use href="#hS" x="260" y="781.7"/><use href="#hS" x="267.7" y="795.3"/><use href="#hS" x="274" y="731.7"/><use href="#hS" x="278.3" y="833.3"/><use href="#hS" x="283" y="850"/>
</g>
<g>
<use href="#hR" x="114.3" y="866.7"/><use href="#hR" x="126.7" y="846"/><use href="#hR" x="204" y="820.7"/><use href="#hR" x="209.7" y="879.3"/><use href="#hR" x="214.3" y="871.7"/><use href="#hR" x="214.3" y="934.3"/><use href="#hR" x="218.3" y="936.7"/><use href="#hR" x="221" y="918.7"/><use href="#hR" x="230" y="934.3"/><use href="#hR" x="236.7" y="922.3"/><use href="#hR" x="235.7" y="863.3"/><use href="#hR" x="252.3" y="780.7"/><use href="#hR" x="267.3" y="794.3"/><use href="#hR" x="256.7" y="939.3"/><use href="#hR" x="218.7" y="938.3"/>
</g>
<g font-size="10.5" font-style="italic" fill="#8ea04e">
<text x="290" y="752" textLength="18" lengthAdjust="spacingAndGlyphs">CTK</text>
<text x="308.5" y="747" font-size="6.5">+</text>
<text x="313" y="752" textLength="24" lengthAdjust="spacingAndGlyphs">CD90</text>
<text x="337.5" y="747" font-size="6.5">-</text>
<text x="342" y="752" textLength="83" lengthAdjust="spacingAndGlyphs">non-CSCs and TAMs</text>
<text x="290" y="764.5" textLength="88" lengthAdjust="spacingAndGlyphs">R=-0.1204, P=0.603</text>
</g>
<g font-size="10.5" font-style="italic" fill="#111">
<text x="289" y="793" textLength="18" lengthAdjust="spacingAndGlyphs">CTK</text>
<text x="307.5" y="788" font-size="6.5">-</text>
<text x="311" y="793" textLength="24" lengthAdjust="spacingAndGlyphs">CD90</text>
<text x="335.5" y="788" font-size="6.5">+</text>
<text x="342" y="793" textLength="62" lengthAdjust="spacingAndGlyphs">CSCs and TAMs</text>
<text x="304" y="806.5" textLength="84" lengthAdjust="spacingAndGlyphs">R=0.4386 , P=0.002</text>
</g>
<use href="#hS" x="333" y="832"/>
<use href="#hR" x="333" y="854"/>
<use href="#hT" x="333" y="877"/>
<line x1="328" y1="899" x2="340" y2="899" stroke="#111" stroke-width="1"/>
<g font-size="8.5" fill="#333">
<text x="342" y="835" textLength="70" lengthAdjust="spacingAndGlyphs">CTK- CD90+ CSCs</text>
<text x="342" y="857">CTK+ CD90+</text>
<text x="342" y="880" textLength="66" lengthAdjust="spacingAndGlyphs">CTK+ CD90-  non-</text>
<text x="342" y="891.5">CSCs</text>
<text x="341" y="902" textLength="74" lengthAdjust="spacingAndGlyphs">Linear (CTK- CD90+</text>
<text x="342" y="914">CSCs)</text>
</g>

<!-- ================= Panel i ================= -->
<text x="474" y="542" font-size="17" font-weight="bold">i</text>
<svg x="489" y="539" width="187" height="187">
<rect width="187" height="187" filter="url(#fi1)"/>
<clipPath id="cir1"><rect x="110" y="35" width="77" height="152"/></clipPath>
<rect width="187" height="187" filter="url(#fr)" clip-path="url(#cir1)" opacity="0.85"/>
<clipPath id="cig1"><path d="M121,0 L140,0 L95,31 L58,62 L44,100 L55,150 L68,187 L0,187 L0,81 L35,62 L75,33 Z"/></clipPath>
<rect width="187" height="187" fill="#18a828" clip-path="url(#cig1)" opacity="0.6"/>
<rect width="187" height="187" filter="url(#fgd)" clip-path="url(#cig1)"/>
<path d="M0,0 L121,0 L75,33 L35,62 L0,81 Z" fill="#000"/>
<path d="M0,110 L12,105 L14,140 L6,170 L0,172 Z" fill="#000"/>
<clipPath id="ciy1"><rect x="110" y="40" width="77" height="147"/></clipPath>
<rect width="187" height="187" filter="url(#fy)" clip-path="url(#ciy1)"/>
<text x="4" y="17" font-size="15" font-weight="bold" fill="#22b14c" textLength="26" lengthAdjust="spacingAndGlyphs">CTK</text>
<text x="44" y="17" font-size="15" font-weight="bold" fill="#ee1c24" textLength="36" lengthAdjust="spacingAndGlyphs">CD90</text>
<text x="93" y="17" font-size="15" font-weight="bold" fill="#f5c518" textLength="36" lengthAdjust="spacingAndGlyphs">CD68</text>
<text x="5" y="31" font-size="8" fill="#fff" textLength="25" lengthAdjust="spacingAndGlyphs">10 μm</text>
<line x1="5" y1="35" x2="15" y2="35" stroke="#fff" stroke-width="1.2"/>
</svg>
<svg x="489" y="742" width="187" height="186">
<rect width="187" height="186" filter="url(#fi2)"/>
<clipPath id="cir2"><rect x="25" y="0" width="140" height="186"/></clipPath>
<rect width="187" height="186" filter="url(#fr)" clip-path="url(#cir2)" opacity="0.75"/>
<clipPath id="cig2"><path d="M0,0 L12,0 L18,50 L12,110 L14,186 L0,186 Z"/></clipPath>
<rect width="187" height="186" fill="#18a828" clip-path="url(#cig2)" opacity="0.5"/>
<rect width="187" height="186" filter="url(#fgd)" clip-path="url(#cig2)"/>
<rect width="187" height="186" filter="url(#fy)"/>
<text x="56" y="183" font-size="15" font-weight="bold" fill="#22b14c" textLength="26" lengthAdjust="spacingAndGlyphs">CTK</text>
<text x="95" y="183" font-size="15" font-weight="bold" fill="#ee1c24" textLength="36" lengthAdjust="spacingAndGlyphs">CD90</text>
<text x="145" y="183" font-size="15" font-weight="bold" fill="#f5c518" textLength="36" lengthAdjust="spacingAndGlyphs">CD68</text>
<text x="154" y="15" font-size="8" fill="#fff" textLength="25" lengthAdjust="spacingAndGlyphs">10 μm</text>
<line x1="154" y1="18" x2="166" y2="18" stroke="#fff" stroke-width="1.2"/>
</svg>
</svg>
</body></html>
